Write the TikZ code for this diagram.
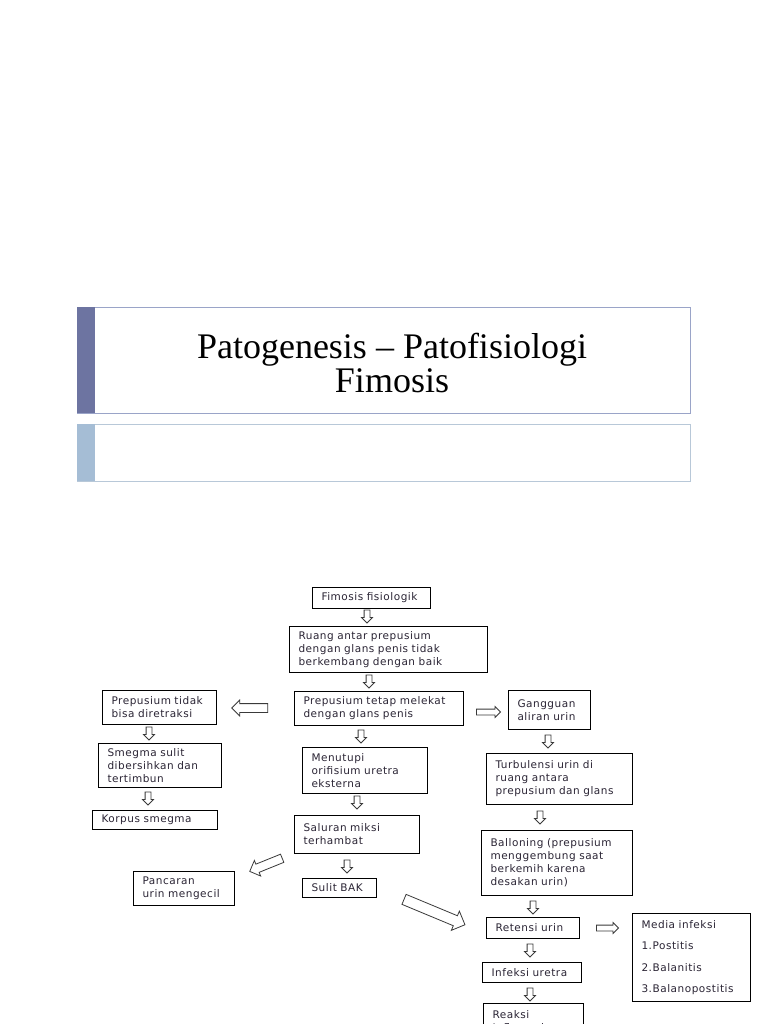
\documentclass[tikz,border=0pt]{standalone}
\usepackage{fontspec}
\setmainfont{Liberation Serif}
\newfontfamily\boxfont[LetterSpace=5]{DejaVu Sans}
\usetikzlibrary{shapes.arrows}

\definecolor{barone}{HTML}{6D74A1}
\definecolor{bartwo}{HTML}{A5BDD5}
\definecolor{edgeone}{HTML}{9AA4C8}
\definecolor{edgetwo}{HTML}{B8C8D8}
\definecolor{boxtext}{HTML}{2B2535}
\definecolor{arrowline}{HTML}{3A3A3A}

\tikzset{
  box/.style 2 args={/utils/exec={\pgfmathsetmacro\boxtw{#1-18}},
    draw, line width=1pt, anchor=north west, align=left,
    inner xsep=9pt, inner ysep=0pt, text width=\boxtw pt,
    minimum height=#2pt, text=boxtext,
    font=\boxfont\fontsize{10.5}{13}\selectfont},
  blk/.style={single arrow, draw=arrowline, fill=white, line width=.8pt,
    inner xsep=0pt, single arrow head indent=0pt},
  darr/.style={blk, inner ysep=2.5pt, single arrow head extend=2.5pt,
    minimum height=13pt, rotate=-90},
  sarr/.style={blk, inner ysep=2.5pt, single arrow head extend=2.5pt,
    minimum height=#1pt},
}

\begin{document}
\begin{tikzpicture}[x=1pt,y=-1pt]
\useasboundingbox (0,0) rectangle (768,1024);
\fill[white] (0,0) rectangle (768,1024);

% Title bars
\draw[edgeone, line width=.6pt] (77,307) rectangle (690,413);
\fill[barone] (77,307) rectangle (95,413);
\draw[edgetwo, line width=.6pt] (77,424) rectangle (690,481);
\fill[bartwo] (77,424) rectangle (95,481);
\node[align=center, font=\fontsize{36}{34}\selectfont] (title) at (392,363)
  {Patogenesis -- Patofisiologi\\Fimosis};

% Middle column
\node[box={118}{21}] (fis) at (312,587) {Fimosis fisiologik};
\node[box={198}{46}] (ruang) at (289,626)
  {Ruang antar prepusium\\dengan glans penis tidak\\berkembang dengan baik};
\node[box={169}{34}] (prep) at (294,691)
  {Prepusium tetap melekat\\dengan glans penis};
\node[box={125}{46}] (tutup) at (302,747)
  {Menutupi\\orifisium uretra\\eksterna};
\node[box={125}{38}] (saluran) at (294,815) {Saluran miksi\\terhambat};
\node[box={74}{19}] (sulit) at (302,878) {Sulit BAK};
\node[box={101}{34}] (pancar) at (133,871) {Pancaran\\urin mengecil};

% Left column
\node[box={114}{34}] (tidak) at (102,690) {Prepusium tidak\\bisa diretraksi};
\node[box={123}{44}] (smegma) at (98,743)
  {Smegma sulit\\dibersihkan dan\\tertimbun};
\node[box={125}{19}] (korpus) at (92,810) {Korpus smegma};

% Right column
\node[box={82}{39}] (gangguan) at (508,690) {Gangguan\\aliran urin};
\node[box={146}{51}] (turbul) at (486,753)
  {Turbulensi urin di\\ruang antara\\prepusium dan glans};
\node[box={151}{65}] (balon) at (481,830)
  {Balloning (prepusium\\menggembung saat\\berkemih karena\\desakan urin)};
\node[box={93}{21}] (retensi) at (486,917) {Retensi urin};
\node[box={99}{20}] (infeksi) at (482,962) {Infeksi uretra};
\node[box={100}{36}] (reaksi) at (483,1003) {Reaksi\\Inflamasi};
\node[box={118}{88}] (media) at (632,913)
  {Media infeksi\\[8.5pt]1.Postitis\\[8.5pt]2.Balanitis\\[8.5pt]3.Balanopostitis};

% Block arrows
\node[darr] (fis-ruang) at (367,615) {};
\node[darr] (ruang-prep) at (369,680) {};
\node[blk, inner ysep=4pt, single arrow head extend=3.5pt, minimum height=36pt,
  rotate=180] (prep-tidak) at (252,708) {};
\node[sarr=24] (prep-gangguan) at (487,712) {};
\node[darr] (tidak-smegma) at (149,732) {};
\node[darr] (prep-tutup) at (361,735) {};
\node[darr] (gangguan-turbul) at (548,740) {};
\node[darr] (smegma-korpus) at (148,797) {};
\node[darr] (tutup-saluran) at (357,801) {};
\node[darr] (turbul-balon) at (540,816) {};
\node[blk, inner ysep=4pt, single arrow head extend=4pt, minimum height=35pt,
  rotate=202] (saluran-pancar) at (268,864) {};
\node[darr] (saluran-sulit) at (347,865) {};
\node[blk, inner ysep=5pt, single arrow head extend=5pt, minimum height=66pt,
  rotate=-22.6] (sulit-retensi) at (432,911) {};
\node[darr] (balon-retensi) at (533,906) {};
\node[sarr=22] (retensi-media) at (606,928) {};
\node[darr] (retensi-infeksi) at (530,949) {};
\node[darr] (infeksi-reaksi) at (530,993) {};

\end{tikzpicture}
\end{document}
